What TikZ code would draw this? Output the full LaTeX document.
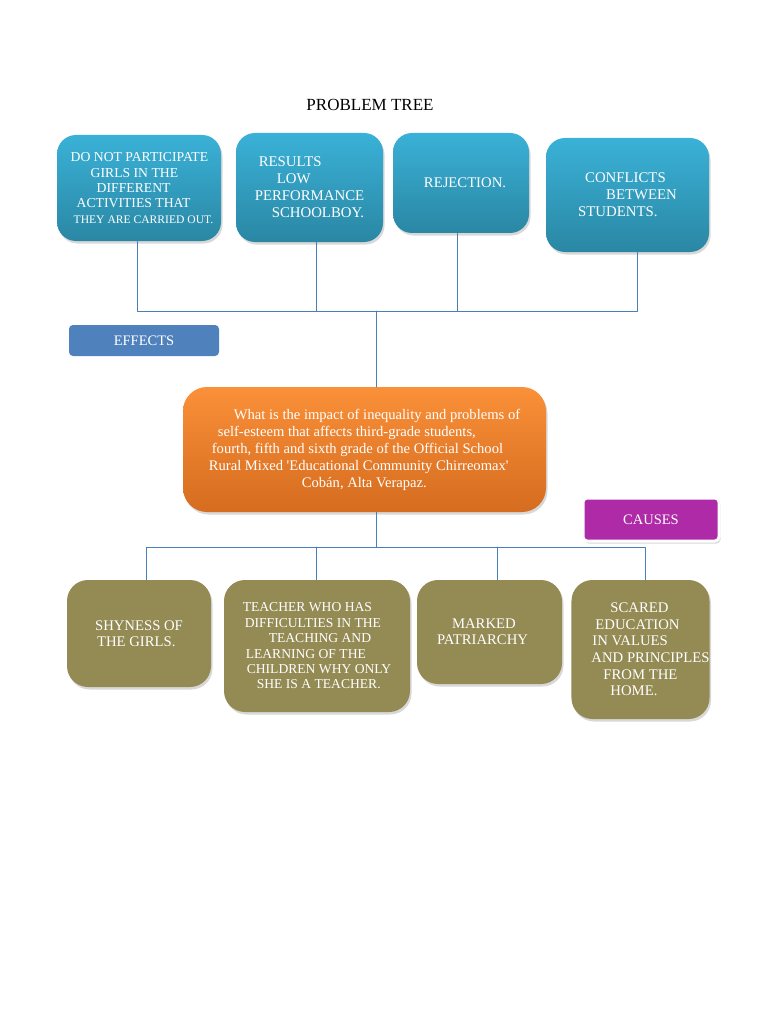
\documentclass[tikz,border=0pt]{standalone}
\usepackage{fontspec}
\setmainfont{Liberation Serif}
\usetikzlibrary{shadows}

\definecolor{tealtop}{HTML}{3AB1D7}
\definecolor{tealbot}{HTML}{2A87A4}
\definecolor{orgtop}{HTML}{FA9038}
\definecolor{orgbot}{HTML}{D56C1F}
\definecolor{olive}{HTML}{948A54}
\definecolor{effblue}{HTML}{4F81BD}
\definecolor{causepurple}{HTML}{AE2AA6}
\definecolor{wireblue}{HTML}{4A7EBB}

\begin{document}
\begin{tikzpicture}[x=1pt,y=-1pt,line cap=round,line join=round,
  every node/.style={font=\fontsize{14.7}{15.4}\selectfont,text=white,inner sep=0pt,align=left},
  wire/.style={draw=wireblue,line width=0.9pt},
  softshadow/.style={drop shadow={opacity=0.3,shadow xshift=1.5pt,shadow yshift=-2.5pt}},
  effbox/.style={rounded corners=19pt,shading=axis,top color=tealtop,bottom color=tealbot,softshadow},
  causebox/.style={rounded corners=21pt,fill=olive,softshadow},
  tagbox/.style={rounded corners=4pt,font=\fontsize{14.5}{16}\selectfont}]
  \useasboundingbox[fill=white] (0,0) rectangle (768,1024);
  % ---- title ---------------------------------------------------------------
  \node[text=black,font=\fontsize{17}{20}\selectfont] (title) at (370,105) {PROBLEM TREE};
  % ---- effects ---------------------------------------------------------------
  \node[effbox,minimum width=164pt,minimum height=106pt,font=\fontsize{13.7}{15.3}\selectfont] (e1) at (139,188)
    {\hspace*{6pt}DO NOT PARTICIPATE\\\hspace*{26pt}GIRLS IN THE\\\hspace*{32pt}DIFFERENT\\
     \hspace*{12pt}ACTIVITIES THAT\\\hspace*{9pt}{\fontsize{11.6}{15}\selectfont THEY ARE CARRIED OUT.}};
  \node[effbox,minimum width=147pt,minimum height=109pt,font=\fontsize{14.8}{17}\selectfont] (e2) at (309.5,187.5)
    {\hspace*{4pt}RESULTS\\\hspace*{22pt}LOW\\PERFORMANCE\\\hspace*{17pt}SCHOOLBOY.};
  \node[effbox,minimum width=136pt,minimum height=100pt] (e3) at (461,183) {\hspace*{8pt}REJECTION.};
  \node[effbox,minimum width=163pt,minimum height=114pt,font=\fontsize{14.8}{17}\selectfont] (e4) at (627.5,195)
    {\hspace*{7pt}CONFLICTS\\\hspace*{28pt}BETWEEN\hspace*{6pt}\\STUDENTS.};
  \node[tagbox,fill=effblue,minimum width=150pt,minimum height=31pt] (effects) at (144,340.5) {EFFECTS};
  % ---- central problem ---------------------------------------------------------
  \node[rounded corners=24pt,shading=axis,top color=orgtop,bottom color=orgbot,softshadow,
    minimum width=363pt,minimum height=125pt,font=\fontsize{14.6}{17}\selectfont] (q) at (364.5,449.5)
    {\hspace*{25pt}What is the impact of inequality and problems of\\
     \hspace*{9pt}self-esteem that affects third-grade students,\\
     \hspace*{3pt}fourth, fifth and sixth grade of the Official School\\
     Rural Mixed \textquotesingle Educational Community Chirreomax\textquotesingle\\
     \hspace*{93pt}Cobán, Alta Verapaz.};
  \node[tagbox,fill=causepurple,draw=white,line width=3pt,softshadow,
    minimum width=136pt,minimum height=43pt] (causes) at (651,519.5) {CAUSES};
  % ---- causes ----------------------------------------------------------------
  \node[causebox,minimum width=144pt,minimum height=107pt,font=\fontsize{14.7}{16}\selectfont] (c1) at (139,633.5)
    {SHYNESS OF\\\hspace*{2pt}THE GIRLS.};
  \node[causebox,minimum width=186pt,minimum height=132pt,font=\fontsize{13.6}{15.4}\selectfont] (c2) at (317,646)
    {TEACHER WHO HAS\\\hspace*{2pt}DIFFICULTIES IN THE\\\hspace*{26pt}TEACHING AND\\
     \hspace*{3pt}LEARNING OF THE\\\hspace*{4pt}CHILDREN WHY ONLY\\\hspace*{14pt}SHE IS A TEACHER.};
  \node[causebox,minimum width=145pt,minimum height=104pt,font=\fontsize{14.7}{16}\selectfont] (c3) at (489.5,632)
    {\hspace*{15pt}MARKED\\PATRIARCHY\hspace*{14pt}};
  \node[causebox,minimum width=137pt,minimum height=139pt,font=\fontsize{14.7}{16.6}\selectfont] (c4) at (640.5,649.5)
    {\hspace*{39pt}SCARED\\\hspace*{24pt}EDUCATION\\\hspace*{21pt}IN VALUES\\
     \hspace*{20pt}AND PRINCIPLES\\\hspace*{32pt}FROM THE\\\hspace*{39pt}HOME.};
  % ---- connectors ------------------------------------------------------------
  \coordinate (tbus) at (376,311);
  \coordinate (bbus) at (376,547);
  \draw[wire] ([xshift=-2pt]e1.south) -- ([xshift=-2pt]e1.south |- tbus)
    -- ([xshift=9.5pt]e4.south |- tbus) -- ([xshift=9.5pt]e4.south);
  \draw[wire] ([xshift=6.5pt]e2.south) -- ([xshift=6.5pt]e2.south |- tbus);
  \draw[wire] ([xshift=-4pt]e3.south) -- ([xshift=-4pt]e3.south |- tbus);
  \draw[wire] (tbus) -- ([xshift=11.5pt]q.north);
  \draw[wire] ([xshift=11.5pt]q.south) -- (bbus);
  \draw[wire] ([xshift=7pt]c1.north) -- ([xshift=7pt]c1.north |- bbus)
    -- ([xshift=4.5pt]c4.north |- bbus) -- ([xshift=4.5pt]c4.north);
  \draw[wire] ([xshift=-1pt]c2.north) -- ([xshift=-1pt]c2.north |- bbus);
  \draw[wire] ([xshift=7.5pt]c3.north) -- ([xshift=7.5pt]c3.north |- bbus);
\end{tikzpicture}
\end{document}
